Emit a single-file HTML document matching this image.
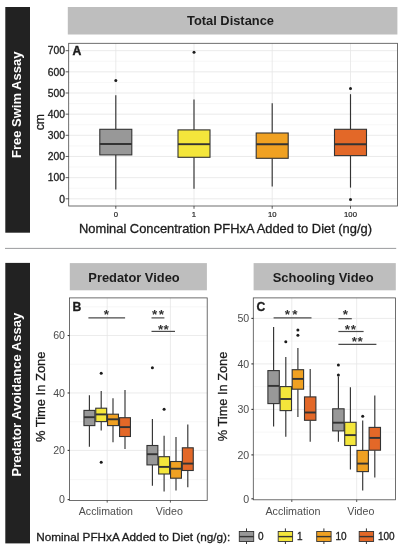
<!DOCTYPE html>
<html><head><meta charset="utf-8"><title>Figure</title>
<style>
html,body{margin:0;padding:0;background:#fff;}
body{width:406px;height:550px;overflow:hidden;}
svg{display:block;font-family:"Liberation Sans",Arial,sans-serif;}
</style></head><body>
<svg width="406" height="550" viewBox="0 0 406 550">
<rect width="406" height="550" fill="#fff"/>
<rect x="5.30" y="7.00" width="24.70" height="225.70" fill="#222222"/>
<rect x="5.30" y="262.90" width="24.70" height="280.50" fill="#222222"/>
<text x="21.00" y="158.00" font-size="12.9" text-anchor="start" fill="#fff" font-weight="bold" transform="rotate(-90 21.00 158.00)" textLength="106.4" lengthAdjust="spacingAndGlyphs">Free Swim Assay</text>
<text x="21.00" y="476.50" font-size="12.9" text-anchor="start" fill="#fff" font-weight="bold" transform="rotate(-90 21.00 476.50)" textLength="163.7" lengthAdjust="spacingAndGlyphs">Predator Avoidance Assay</text>
<line x1="5.00" y1="248.40" x2="396.20" y2="248.40" stroke="#808285" stroke-width="0.8"/>
<rect x="67.80" y="7.00" width="329.60" height="27.50" fill="#bebebe"/>
<text x="230.50" y="25.10" font-size="12.8" text-anchor="middle" fill="#1c1c1c" font-weight="bold" textLength="87" lengthAdjust="spacingAndGlyphs">Total Distance</text>
<rect x="68.70" y="43.30" width="328.80" height="162.70" fill="#fff"/>
<line x1="68.70" y1="188.22" x2="397.50" y2="188.22" stroke="#efefef" stroke-width="0.5"/>
<line x1="68.70" y1="167.06" x2="397.50" y2="167.06" stroke="#efefef" stroke-width="0.5"/>
<line x1="68.70" y1="145.90" x2="397.50" y2="145.90" stroke="#efefef" stroke-width="0.5"/>
<line x1="68.70" y1="124.74" x2="397.50" y2="124.74" stroke="#efefef" stroke-width="0.5"/>
<line x1="68.70" y1="103.58" x2="397.50" y2="103.58" stroke="#efefef" stroke-width="0.5"/>
<line x1="68.70" y1="82.42" x2="397.50" y2="82.42" stroke="#efefef" stroke-width="0.5"/>
<line x1="68.70" y1="61.26" x2="397.50" y2="61.26" stroke="#efefef" stroke-width="0.5"/>
<line x1="68.70" y1="198.80" x2="397.50" y2="198.80" stroke="#e6e6e6" stroke-width="0.8"/>
<line x1="68.70" y1="177.64" x2="397.50" y2="177.64" stroke="#e6e6e6" stroke-width="0.8"/>
<line x1="68.70" y1="156.48" x2="397.50" y2="156.48" stroke="#e6e6e6" stroke-width="0.8"/>
<line x1="68.70" y1="135.32" x2="397.50" y2="135.32" stroke="#e6e6e6" stroke-width="0.8"/>
<line x1="68.70" y1="114.16" x2="397.50" y2="114.16" stroke="#e6e6e6" stroke-width="0.8"/>
<line x1="68.70" y1="93.00" x2="397.50" y2="93.00" stroke="#e6e6e6" stroke-width="0.8"/>
<line x1="68.70" y1="71.84" x2="397.50" y2="71.84" stroke="#e6e6e6" stroke-width="0.8"/>
<line x1="68.70" y1="50.68" x2="397.50" y2="50.68" stroke="#e6e6e6" stroke-width="0.8"/>
<line x1="115.80" y1="43.30" x2="115.80" y2="206.00" stroke="#e6e6e6" stroke-width="0.8"/>
<line x1="194.00" y1="43.30" x2="194.00" y2="206.00" stroke="#e6e6e6" stroke-width="0.8"/>
<line x1="272.20" y1="43.30" x2="272.20" y2="206.00" stroke="#e6e6e6" stroke-width="0.8"/>
<line x1="350.50" y1="43.30" x2="350.50" y2="206.00" stroke="#e6e6e6" stroke-width="0.8"/>
<line x1="115.80" y1="95.30" x2="115.80" y2="129.30" stroke="#333333" stroke-width="1.15"/>
<line x1="115.80" y1="154.90" x2="115.80" y2="189.60" stroke="#333333" stroke-width="1.15"/>
<rect x="99.80" y="129.30" width="32.00" height="25.60" fill="#989898" stroke="#333333" stroke-width="1.1"/>
<line x1="99.80" y1="144.00" x2="131.80" y2="144.00" stroke="#333333" stroke-width="1.9"/>
<circle cx="115.80" cy="80.50" r="1.5" fill="#1c1c1c"/>
<line x1="194.00" y1="99.60" x2="194.00" y2="129.90" stroke="#333333" stroke-width="1.15"/>
<line x1="194.00" y1="157.30" x2="194.00" y2="188.80" stroke="#333333" stroke-width="1.15"/>
<rect x="178.00" y="129.90" width="32.00" height="27.40" fill="#f4e63b" stroke="#333333" stroke-width="1.1"/>
<line x1="178.00" y1="144.20" x2="210.00" y2="144.20" stroke="#333333" stroke-width="1.9"/>
<circle cx="194.00" cy="52.30" r="1.5" fill="#1c1c1c"/>
<line x1="272.20" y1="103.30" x2="272.20" y2="133.00" stroke="#333333" stroke-width="1.15"/>
<line x1="272.20" y1="158.30" x2="272.20" y2="186.40" stroke="#333333" stroke-width="1.15"/>
<rect x="256.20" y="133.00" width="32.00" height="25.30" fill="#f0a122" stroke="#333333" stroke-width="1.1"/>
<line x1="256.20" y1="144.30" x2="288.20" y2="144.30" stroke="#333333" stroke-width="1.9"/>
<line x1="350.50" y1="94.20" x2="350.50" y2="129.30" stroke="#333333" stroke-width="1.15"/>
<line x1="350.50" y1="155.60" x2="350.50" y2="187.60" stroke="#333333" stroke-width="1.15"/>
<rect x="334.50" y="129.30" width="32.00" height="26.30" fill="#e36828" stroke="#333333" stroke-width="1.1"/>
<line x1="334.50" y1="144.20" x2="366.50" y2="144.20" stroke="#333333" stroke-width="1.9"/>
<circle cx="350.50" cy="88.50" r="1.5" fill="#1c1c1c"/>
<circle cx="350.50" cy="199.40" r="1.5" fill="#1c1c1c"/>
<rect x="68.70" y="43.30" width="328.80" height="162.70" fill="none" stroke="#4a4a4a" stroke-width="0.8"/>
<line x1="65.60" y1="198.80" x2="68.70" y2="198.80" stroke="#333" stroke-width="0.8"/>
<text x="65.00" y="202.50" font-size="10.3" text-anchor="end" fill="#1c1c1c" stroke="#1c1c1c" stroke-width="0.3">0</text>
<line x1="65.60" y1="177.64" x2="68.70" y2="177.64" stroke="#333" stroke-width="0.8"/>
<text x="65.00" y="181.34" font-size="10.3" text-anchor="end" fill="#1c1c1c" stroke="#1c1c1c" stroke-width="0.3">100</text>
<line x1="65.60" y1="156.48" x2="68.70" y2="156.48" stroke="#333" stroke-width="0.8"/>
<text x="65.00" y="160.18" font-size="10.3" text-anchor="end" fill="#1c1c1c" stroke="#1c1c1c" stroke-width="0.3">200</text>
<line x1="65.60" y1="135.32" x2="68.70" y2="135.32" stroke="#333" stroke-width="0.8"/>
<text x="65.00" y="139.02" font-size="10.3" text-anchor="end" fill="#1c1c1c" stroke="#1c1c1c" stroke-width="0.3">300</text>
<line x1="65.60" y1="114.16" x2="68.70" y2="114.16" stroke="#333" stroke-width="0.8"/>
<text x="65.00" y="117.86" font-size="10.3" text-anchor="end" fill="#1c1c1c" stroke="#1c1c1c" stroke-width="0.3">400</text>
<line x1="65.60" y1="93.00" x2="68.70" y2="93.00" stroke="#333" stroke-width="0.8"/>
<text x="65.00" y="96.70" font-size="10.3" text-anchor="end" fill="#1c1c1c" stroke="#1c1c1c" stroke-width="0.3">500</text>
<line x1="65.60" y1="71.84" x2="68.70" y2="71.84" stroke="#333" stroke-width="0.8"/>
<text x="65.00" y="75.54" font-size="10.3" text-anchor="end" fill="#1c1c1c" stroke="#1c1c1c" stroke-width="0.3">600</text>
<line x1="65.60" y1="50.68" x2="68.70" y2="50.68" stroke="#333" stroke-width="0.8"/>
<text x="65.00" y="54.38" font-size="10.3" text-anchor="end" fill="#1c1c1c" stroke="#1c1c1c" stroke-width="0.3">700</text>
<line x1="115.80" y1="206.00" x2="115.80" y2="208.80" stroke="#333" stroke-width="0.8"/>
<text x="115.80" y="216.60" font-size="7.7" text-anchor="middle" fill="#1c1c1c" stroke="#1c1c1c" stroke-width="0.2">0</text>
<line x1="194.00" y1="206.00" x2="194.00" y2="208.80" stroke="#333" stroke-width="0.8"/>
<text x="194.00" y="216.60" font-size="7.7" text-anchor="middle" fill="#1c1c1c" stroke="#1c1c1c" stroke-width="0.2">1</text>
<line x1="272.20" y1="206.00" x2="272.20" y2="208.80" stroke="#333" stroke-width="0.8"/>
<text x="272.20" y="216.60" font-size="7.7" text-anchor="middle" fill="#1c1c1c" stroke="#1c1c1c" stroke-width="0.2">10</text>
<line x1="350.50" y1="206.00" x2="350.50" y2="208.80" stroke="#333" stroke-width="0.8"/>
<text x="350.50" y="216.60" font-size="7.7" text-anchor="middle" fill="#1c1c1c" stroke="#1c1c1c" stroke-width="0.2">100</text>
<text x="72.50" y="54.90" font-size="12.2" text-anchor="start" fill="#1c1c1c" font-weight="bold" stroke="#1c1c1c" stroke-width="0.45">A</text>
<text x="43.80" y="122.20" font-size="12.2" text-anchor="middle" fill="#1c1c1c" transform="rotate(-90 43.80 122.20)" stroke="#1c1c1c" stroke-width="0.3">cm</text>
<text x="79.00" y="232.80" font-size="12.3" text-anchor="start" fill="#1c1c1c" textLength="293.0" lengthAdjust="spacingAndGlyphs" stroke="#1c1c1c" stroke-width="0.3">Nominal Concentration PFHxA Added to Diet (ng/g)</text>
<rect x="69.80" y="263.10" width="137.10" height="27.20" fill="#bebebe"/>
<text x="134.00" y="281.60" font-size="12.9" text-anchor="middle" fill="#1c1c1c" font-weight="bold" textLength="91.4" lengthAdjust="spacingAndGlyphs">Predator Video</text>
<rect x="69.50" y="297.90" width="137.70" height="202.50" fill="#fff"/>
<line x1="69.50" y1="479.60" x2="207.20" y2="479.60" stroke="#efefef" stroke-width="0.5"/>
<line x1="69.50" y1="421.68" x2="207.20" y2="421.68" stroke="#efefef" stroke-width="0.5"/>
<line x1="69.50" y1="364.24" x2="207.20" y2="364.24" stroke="#efefef" stroke-width="0.5"/>
<line x1="69.50" y1="306.80" x2="207.20" y2="306.80" stroke="#efefef" stroke-width="0.5"/>
<line x1="69.50" y1="450.40" x2="207.20" y2="450.40" stroke="#e6e6e6" stroke-width="0.8"/>
<line x1="69.50" y1="392.96" x2="207.20" y2="392.96" stroke="#e6e6e6" stroke-width="0.8"/>
<line x1="69.50" y1="335.52" x2="207.20" y2="335.52" stroke="#e6e6e6" stroke-width="0.8"/>
<line x1="107.20" y1="297.90" x2="107.20" y2="500.40" stroke="#e6e6e6" stroke-width="0.8"/>
<line x1="170.40" y1="297.90" x2="170.40" y2="500.40" stroke="#e6e6e6" stroke-width="0.8"/>
<line x1="89.40" y1="395.30" x2="89.40" y2="410.40" stroke="#333333" stroke-width="1.15"/>
<line x1="89.40" y1="425.60" x2="89.40" y2="446.70" stroke="#333333" stroke-width="1.15"/>
<rect x="83.95" y="410.40" width="10.90" height="15.20" fill="#989898" stroke="#333333" stroke-width="1.1"/>
<line x1="83.95" y1="417.20" x2="94.85" y2="417.20" stroke="#333333" stroke-width="1.9"/>
<line x1="101.20" y1="390.90" x2="101.20" y2="408.20" stroke="#333333" stroke-width="1.15"/>
<line x1="101.20" y1="421.60" x2="101.20" y2="430.60" stroke="#333333" stroke-width="1.15"/>
<rect x="95.75" y="408.20" width="10.90" height="13.40" fill="#f4e63b" stroke="#333333" stroke-width="1.1"/>
<line x1="95.75" y1="414.40" x2="106.65" y2="414.40" stroke="#333333" stroke-width="1.9"/>
<circle cx="101.20" cy="373.30" r="1.5" fill="#1c1c1c"/>
<circle cx="101.20" cy="462.30" r="1.5" fill="#1c1c1c"/>
<line x1="113.00" y1="398.20" x2="113.00" y2="414.20" stroke="#333333" stroke-width="1.15"/>
<line x1="113.00" y1="425.60" x2="113.00" y2="442.30" stroke="#333333" stroke-width="1.15"/>
<rect x="107.55" y="414.20" width="10.90" height="11.40" fill="#f0a122" stroke="#333333" stroke-width="1.1"/>
<line x1="107.55" y1="419.30" x2="118.45" y2="419.30" stroke="#333333" stroke-width="1.9"/>
<line x1="125.00" y1="390.00" x2="125.00" y2="417.70" stroke="#333333" stroke-width="1.15"/>
<line x1="125.00" y1="436.50" x2="125.00" y2="449.00" stroke="#333333" stroke-width="1.15"/>
<rect x="119.55" y="417.70" width="10.90" height="18.80" fill="#e36828" stroke="#333333" stroke-width="1.1"/>
<line x1="119.55" y1="427.10" x2="130.45" y2="427.10" stroke="#333333" stroke-width="1.9"/>
<line x1="152.40" y1="419.10" x2="152.40" y2="445.50" stroke="#333333" stroke-width="1.15"/>
<line x1="152.40" y1="464.90" x2="152.40" y2="485.80" stroke="#333333" stroke-width="1.15"/>
<rect x="146.95" y="445.50" width="10.90" height="19.40" fill="#989898" stroke="#333333" stroke-width="1.1"/>
<line x1="146.95" y1="454.20" x2="157.85" y2="454.20" stroke="#333333" stroke-width="1.9"/>
<circle cx="152.40" cy="367.80" r="1.5" fill="#1c1c1c"/>
<line x1="164.10" y1="435.80" x2="164.10" y2="456.70" stroke="#333333" stroke-width="1.15"/>
<line x1="164.10" y1="474.00" x2="164.10" y2="491.50" stroke="#333333" stroke-width="1.15"/>
<rect x="158.65" y="456.70" width="10.90" height="17.30" fill="#f4e63b" stroke="#333333" stroke-width="1.1"/>
<line x1="158.65" y1="466.90" x2="169.55" y2="466.90" stroke="#333333" stroke-width="1.9"/>
<circle cx="164.10" cy="409.20" r="1.5" fill="#1c1c1c"/>
<line x1="176.00" y1="436.90" x2="176.00" y2="461.50" stroke="#333333" stroke-width="1.15"/>
<line x1="176.00" y1="478.20" x2="176.00" y2="490.40" stroke="#333333" stroke-width="1.15"/>
<rect x="170.55" y="461.50" width="10.90" height="16.70" fill="#f0a122" stroke="#333333" stroke-width="1.1"/>
<line x1="170.55" y1="468.70" x2="181.45" y2="468.70" stroke="#333333" stroke-width="1.9"/>
<line x1="187.80" y1="424.50" x2="187.80" y2="447.80" stroke="#333333" stroke-width="1.15"/>
<line x1="187.80" y1="470.50" x2="187.80" y2="487.30" stroke="#333333" stroke-width="1.15"/>
<rect x="182.35" y="447.80" width="10.90" height="22.70" fill="#e36828" stroke="#333333" stroke-width="1.1"/>
<line x1="182.35" y1="463.60" x2="193.25" y2="463.60" stroke="#333333" stroke-width="1.9"/>
<rect x="69.50" y="297.90" width="137.70" height="202.50" fill="none" stroke="#4a4a4a" stroke-width="0.8"/>
<line x1="88.40" y1="317.90" x2="125.10" y2="317.90" stroke="#4a4a4a" stroke-width="1.2"/>
<text x="106.50" y="319.20" font-size="13.5" text-anchor="middle" fill="#333" font-weight="bold">*</text>
<line x1="151.50" y1="317.90" x2="164.40" y2="317.90" stroke="#4a4a4a" stroke-width="1.2"/>
<text x="154.60" y="319.40" font-size="13.5" text-anchor="middle" fill="#333" font-weight="bold">*</text>
<text x="161.30" y="319.40" font-size="13.5" text-anchor="middle" fill="#333" font-weight="bold">*</text>
<line x1="151.50" y1="331.40" x2="175.00" y2="331.40" stroke="#4a4a4a" stroke-width="1.2"/>
<text x="160.70" y="334.00" font-size="13.5" text-anchor="middle" fill="#333" font-weight="bold">*</text>
<text x="166.20" y="334.00" font-size="13.5" text-anchor="middle" fill="#333" font-weight="bold">*</text>
<line x1="67.60" y1="335.52" x2="69.50" y2="335.52" stroke="#333" stroke-width="1.1"/>
<text x="65.00" y="339.22" font-size="10.6" text-anchor="end" fill="#4d4d4d">60</text>
<line x1="67.60" y1="392.96" x2="69.50" y2="392.96" stroke="#333" stroke-width="1.1"/>
<text x="65.00" y="396.66" font-size="10.6" text-anchor="end" fill="#4d4d4d">40</text>
<line x1="67.60" y1="450.40" x2="69.50" y2="450.40" stroke="#333" stroke-width="1.1"/>
<text x="65.00" y="454.10" font-size="10.6" text-anchor="end" fill="#4d4d4d">20</text>
<line x1="67.60" y1="499.60" x2="69.50" y2="499.60" stroke="#333" stroke-width="1.1"/>
<text x="65.00" y="503.30" font-size="10.6" text-anchor="end" fill="#4d4d4d">0</text>
<line x1="107.20" y1="500.40" x2="107.20" y2="502.60" stroke="#333" stroke-width="0.8"/>
<line x1="170.40" y1="500.40" x2="170.40" y2="502.60" stroke="#333" stroke-width="0.8"/>
<text x="105.90" y="514.80" font-size="10.6" text-anchor="middle" fill="#4d4d4d" textLength="54.2" lengthAdjust="spacingAndGlyphs">Acclimation</text>
<text x="169.30" y="514.80" font-size="10.6" text-anchor="middle" fill="#4d4d4d" textLength="27.1" lengthAdjust="spacingAndGlyphs">Video</text>
<text x="72.40" y="310.50" font-size="12.2" text-anchor="start" fill="#1c1c1c" font-weight="bold" stroke="#1c1c1c" stroke-width="0.3">B</text>
<text x="44.70" y="396.80" font-size="12.7" text-anchor="middle" fill="#1c1c1c" transform="rotate(-90 44.70 396.80)" textLength="90.5" lengthAdjust="spacingAndGlyphs" stroke="#1c1c1c" stroke-width="0.3">% Time In Zone</text>
<rect x="253.60" y="263.10" width="142.20" height="27.20" fill="#bebebe"/>
<text x="323.20" y="281.60" font-size="12.9" text-anchor="middle" fill="#1c1c1c" font-weight="bold" textLength="101" lengthAdjust="spacingAndGlyphs">Schooling Video</text>
<rect x="253.30" y="297.90" width="142.10" height="201.90" fill="#fff"/>
<line x1="253.30" y1="478.80" x2="395.40" y2="478.80" stroke="#efefef" stroke-width="0.5"/>
<line x1="253.30" y1="432.15" x2="395.40" y2="432.15" stroke="#efefef" stroke-width="0.5"/>
<line x1="253.30" y1="386.65" x2="395.40" y2="386.65" stroke="#efefef" stroke-width="0.5"/>
<line x1="253.30" y1="341.15" x2="395.40" y2="341.15" stroke="#efefef" stroke-width="0.5"/>
<line x1="253.30" y1="454.90" x2="395.40" y2="454.90" stroke="#e6e6e6" stroke-width="0.8"/>
<line x1="253.30" y1="409.40" x2="395.40" y2="409.40" stroke="#e6e6e6" stroke-width="0.8"/>
<line x1="253.30" y1="363.90" x2="395.40" y2="363.90" stroke="#e6e6e6" stroke-width="0.8"/>
<line x1="253.30" y1="318.40" x2="395.40" y2="318.40" stroke="#e6e6e6" stroke-width="0.8"/>
<line x1="291.80" y1="297.90" x2="291.80" y2="499.80" stroke="#e6e6e6" stroke-width="0.8"/>
<line x1="356.70" y1="297.90" x2="356.70" y2="499.80" stroke="#e6e6e6" stroke-width="0.8"/>
<line x1="273.60" y1="327.00" x2="273.60" y2="370.60" stroke="#333333" stroke-width="1.15"/>
<line x1="273.60" y1="403.60" x2="273.60" y2="426.60" stroke="#333333" stroke-width="1.15"/>
<rect x="267.90" y="370.60" width="11.40" height="33.00" fill="#989898" stroke="#333333" stroke-width="1.1"/>
<line x1="267.90" y1="385.90" x2="279.30" y2="385.90" stroke="#333333" stroke-width="1.9"/>
<line x1="285.80" y1="357.10" x2="285.80" y2="386.60" stroke="#333333" stroke-width="1.15"/>
<line x1="285.80" y1="410.60" x2="285.80" y2="436.70" stroke="#333333" stroke-width="1.15"/>
<rect x="280.10" y="386.60" width="11.40" height="24.00" fill="#f4e63b" stroke="#333333" stroke-width="1.1"/>
<line x1="280.10" y1="399.00" x2="291.50" y2="399.00" stroke="#333333" stroke-width="1.9"/>
<circle cx="285.80" cy="341.80" r="1.5" fill="#1c1c1c"/>
<line x1="297.90" y1="347.90" x2="297.90" y2="369.70" stroke="#333333" stroke-width="1.15"/>
<line x1="297.90" y1="389.20" x2="297.90" y2="417.10" stroke="#333333" stroke-width="1.15"/>
<rect x="292.20" y="369.70" width="11.40" height="19.50" fill="#f0a122" stroke="#333333" stroke-width="1.1"/>
<line x1="292.20" y1="378.90" x2="303.60" y2="378.90" stroke="#333333" stroke-width="1.9"/>
<circle cx="297.90" cy="329.90" r="1.5" fill="#1c1c1c"/>
<circle cx="297.90" cy="335.20" r="1.5" fill="#1c1c1c"/>
<line x1="310.20" y1="369.10" x2="310.20" y2="396.90" stroke="#333333" stroke-width="1.15"/>
<line x1="310.20" y1="420.30" x2="310.20" y2="441.70" stroke="#333333" stroke-width="1.15"/>
<rect x="304.50" y="396.90" width="11.40" height="23.40" fill="#e36828" stroke="#333333" stroke-width="1.1"/>
<line x1="304.50" y1="412.50" x2="315.90" y2="412.50" stroke="#333333" stroke-width="1.9"/>
<line x1="338.40" y1="376.50" x2="338.40" y2="408.80" stroke="#333333" stroke-width="1.15"/>
<line x1="338.40" y1="430.90" x2="338.40" y2="441.80" stroke="#333333" stroke-width="1.15"/>
<rect x="332.70" y="408.80" width="11.40" height="22.10" fill="#989898" stroke="#333333" stroke-width="1.1"/>
<line x1="332.70" y1="422.70" x2="344.10" y2="422.70" stroke="#333333" stroke-width="1.9"/>
<circle cx="338.40" cy="365.10" r="1.5" fill="#1c1c1c"/>
<circle cx="338.40" cy="375.00" r="1.5" fill="#1c1c1c"/>
<line x1="350.40" y1="387.30" x2="350.40" y2="422.30" stroke="#333333" stroke-width="1.15"/>
<line x1="350.40" y1="445.50" x2="350.40" y2="469.50" stroke="#333333" stroke-width="1.15"/>
<rect x="344.70" y="422.30" width="11.40" height="23.20" fill="#f4e63b" stroke="#333333" stroke-width="1.1"/>
<line x1="344.70" y1="435.10" x2="356.10" y2="435.10" stroke="#333333" stroke-width="1.9"/>
<line x1="362.70" y1="420.50" x2="362.70" y2="450.40" stroke="#333333" stroke-width="1.15"/>
<line x1="362.70" y1="471.60" x2="362.70" y2="490.40" stroke="#333333" stroke-width="1.15"/>
<rect x="357.00" y="450.40" width="11.40" height="21.20" fill="#f0a122" stroke="#333333" stroke-width="1.1"/>
<line x1="357.00" y1="463.60" x2="368.40" y2="463.60" stroke="#333333" stroke-width="1.9"/>
<circle cx="362.70" cy="416.20" r="1.5" fill="#1c1c1c"/>
<line x1="374.80" y1="395.40" x2="374.80" y2="427.40" stroke="#333333" stroke-width="1.15"/>
<line x1="374.80" y1="450.20" x2="374.80" y2="477.50" stroke="#333333" stroke-width="1.15"/>
<rect x="369.10" y="427.40" width="11.40" height="22.80" fill="#e36828" stroke="#333333" stroke-width="1.1"/>
<line x1="369.10" y1="437.90" x2="380.50" y2="437.90" stroke="#333333" stroke-width="1.9"/>
<rect x="253.30" y="297.90" width="142.10" height="201.90" fill="none" stroke="#4a4a4a" stroke-width="0.8"/>
<line x1="273.60" y1="317.80" x2="311.50" y2="317.80" stroke="#4a4a4a" stroke-width="1.2"/>
<text x="287.40" y="319.00" font-size="13.5" text-anchor="middle" fill="#333" font-weight="bold">*</text>
<text x="294.90" y="319.00" font-size="13.5" text-anchor="middle" fill="#333" font-weight="bold">*</text>
<line x1="338.40" y1="318.70" x2="351.80" y2="318.70" stroke="#4a4a4a" stroke-width="1.2"/>
<text x="345.40" y="319.20" font-size="13.5" text-anchor="middle" fill="#333" font-weight="bold">*</text>
<line x1="338.40" y1="331.50" x2="363.60" y2="331.50" stroke="#4a4a4a" stroke-width="1.2"/>
<text x="347.50" y="333.90" font-size="13.5" text-anchor="middle" fill="#333" font-weight="bold">*</text>
<text x="353.30" y="333.90" font-size="13.5" text-anchor="middle" fill="#333" font-weight="bold">*</text>
<line x1="338.40" y1="344.40" x2="376.40" y2="344.40" stroke="#4a4a4a" stroke-width="1.2"/>
<text x="354.50" y="345.70" font-size="13.5" text-anchor="middle" fill="#333" font-weight="bold">*</text>
<text x="360.20" y="345.70" font-size="13.5" text-anchor="middle" fill="#333" font-weight="bold">*</text>
<line x1="251.40" y1="318.40" x2="253.30" y2="318.40" stroke="#333" stroke-width="1.1"/>
<text x="249.20" y="322.10" font-size="10.6" text-anchor="end" fill="#4d4d4d">50</text>
<line x1="251.40" y1="363.90" x2="253.30" y2="363.90" stroke="#333" stroke-width="1.1"/>
<text x="249.20" y="367.60" font-size="10.6" text-anchor="end" fill="#4d4d4d">40</text>
<line x1="251.40" y1="409.40" x2="253.30" y2="409.40" stroke="#333" stroke-width="1.1"/>
<text x="249.20" y="413.10" font-size="10.6" text-anchor="end" fill="#4d4d4d">30</text>
<line x1="251.40" y1="454.90" x2="253.30" y2="454.90" stroke="#333" stroke-width="1.1"/>
<text x="249.20" y="458.60" font-size="10.6" text-anchor="end" fill="#4d4d4d">20</text>
<line x1="251.40" y1="498.80" x2="253.30" y2="498.80" stroke="#333" stroke-width="1.1"/>
<text x="249.20" y="502.50" font-size="10.6" text-anchor="end" fill="#4d4d4d">0</text>
<line x1="291.80" y1="499.80" x2="291.80" y2="502.00" stroke="#333" stroke-width="0.8"/>
<line x1="356.70" y1="499.80" x2="356.70" y2="502.00" stroke="#333" stroke-width="0.8"/>
<text x="292.90" y="514.80" font-size="10.6" text-anchor="middle" fill="#4d4d4d" textLength="55" lengthAdjust="spacingAndGlyphs">Acclimation</text>
<text x="360.80" y="514.80" font-size="10.6" text-anchor="middle" fill="#4d4d4d" textLength="27" lengthAdjust="spacingAndGlyphs">Video</text>
<text x="256.40" y="311.00" font-size="12.2" text-anchor="start" fill="#1c1c1c" font-weight="bold" stroke="#1c1c1c" stroke-width="0.3">C</text>
<text x="227.40" y="396.40" font-size="12.7" text-anchor="middle" fill="#1c1c1c" transform="rotate(-90 227.40 396.40)" textLength="89.5" lengthAdjust="spacingAndGlyphs" stroke="#1c1c1c" stroke-width="0.3">% Time In Zone</text>
<text x="36.20" y="541.30" font-size="11.6" text-anchor="start" fill="#1c1c1c" textLength="194.0" lengthAdjust="spacingAndGlyphs" stroke="#1c1c1c" stroke-width="0.3">Nominal PFHxA Added to Diet (ng/g):</text>
<line x1="246.50" y1="528.40" x2="246.50" y2="544.00" stroke="#333333" stroke-width="1.0"/>
<rect x="239.30" y="531.50" width="14.40" height="10.00" fill="#989898" stroke="#333333" stroke-width="0.9"/>
<line x1="239.30" y1="536.60" x2="253.70" y2="536.60" stroke="#333333" stroke-width="1.4"/>
<text x="257.90" y="540.00" font-size="10" text-anchor="start" fill="#1c1c1c" stroke="#1c1c1c" stroke-width="0.3">0</text>
<line x1="285.40" y1="528.40" x2="285.40" y2="544.00" stroke="#333333" stroke-width="1.0"/>
<rect x="278.20" y="531.50" width="14.40" height="10.00" fill="#f4e63b" stroke="#333333" stroke-width="0.9"/>
<line x1="278.20" y1="536.60" x2="292.60" y2="536.60" stroke="#333333" stroke-width="1.4"/>
<text x="297.00" y="540.00" font-size="10" text-anchor="start" fill="#1c1c1c" stroke="#1c1c1c" stroke-width="0.3">1</text>
<line x1="323.90" y1="528.40" x2="323.90" y2="544.00" stroke="#333333" stroke-width="1.0"/>
<rect x="316.70" y="531.50" width="14.40" height="10.00" fill="#f0a122" stroke="#333333" stroke-width="0.9"/>
<line x1="316.70" y1="536.60" x2="331.10" y2="536.60" stroke="#333333" stroke-width="1.4"/>
<text x="335.40" y="540.00" font-size="10" text-anchor="start" fill="#1c1c1c" stroke="#1c1c1c" stroke-width="0.3">10</text>
<line x1="366.40" y1="528.40" x2="366.40" y2="544.00" stroke="#333333" stroke-width="1.0"/>
<rect x="359.20" y="531.50" width="14.40" height="10.00" fill="#e36828" stroke="#333333" stroke-width="0.9"/>
<line x1="359.20" y1="536.60" x2="373.60" y2="536.60" stroke="#333333" stroke-width="1.4"/>
<text x="377.90" y="540.00" font-size="10" text-anchor="start" fill="#1c1c1c" stroke="#1c1c1c" stroke-width="0.3">100</text>
</svg>
</body></html>
